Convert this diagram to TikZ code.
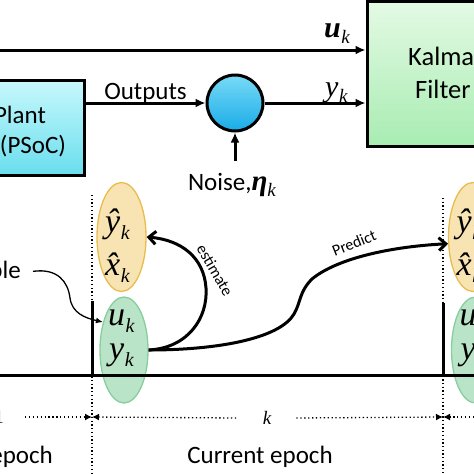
\documentclass[tikz,border=0pt]{standalone}
\usepackage{fontspec}
\setmainfont{Carlito}
\newfontfamily\mfont{Liberation Serif}
\usetikzlibrary{shapes.geometric,arrows.meta}
\definecolor{plantTop}{RGB}{200,248,252}
\definecolor{plantBot}{RGB}{105,222,238}
\definecolor{kfTop}{RGB}{228,250,228}
\definecolor{kfBot}{RGB}{168,236,178}
\definecolor{sumTop}{RGB}{120,218,246}
\definecolor{sumBot}{RGB}{25,172,232}
\definecolor{oFill}{RGB}{248,228,178}
\definecolor{oLine}{RGB}{234,187,78}
\definecolor{gFill}{RGB}{186,228,200}
\definecolor{gLine}{RGB}{135,206,158}
% italic variable with subscript k (ellipse size and top size)
\newcommand\vkE[1]{{\mfont\itshape\fontsize{34}{36}\selectfont #1\kern0.5pt\raisebox{-7pt}{\fontsize{20}{21}\selectfont k}}}
\newcommand\vkT[1]{{\mfont\itshape\fontsize{30}{32}\selectfont #1\kern0.5pt\raisebox{-6pt}{\mdseries\fontsize{19}{20}\selectfont k}}}
\tikzset{
  txt/.style={font=\fontsize{25}{33}\selectfont, inner sep=0pt},
  bigtxt/.style={font=\fontsize{26.5}{33}\selectfont, inner sep=0pt},
  mlbl/.style={inner sep=0pt},
  small/.style={font=\fontsize{16}{18}\selectfont, inner sep=0pt},
  heavy/.style={line width=3pt},
  solidtip/.style={-{Latex[length=10pt,width=9pt]}},
  barbtip/.style={-{Straight Barb[length=7pt,width=13pt,line width=3pt]}},
  dotv/.style={line width=1.3pt, dash pattern=on 1.3pt off 2.4pt},
  dimtip/.style={line width=1.3pt, dash pattern=on 1.3pt off 2.6pt},
  oell/.style={ellipse, draw=oLine, fill=oFill, line width=1.3pt, minimum width=49pt, minimum height=109pt, inner sep=0pt},
  gell/.style={ellipse, draw=gLine, fill=gFill, line width=1.3pt, minimum width=48pt, minimum height=106pt, inner sep=0pt},
}
\begin{document}
\begin{tikzpicture}[x=1pt,y=-1pt]
\useasboundingbox (0,0) rectangle (474,474);
\clip (0,0) rectangle (474,474);
% blocks
\node[draw, line width=3pt, top color=plantTop, bottom color=plantBot, minimum width=114pt, minimum height=95pt, inner sep=0pt] (plant) at (27,127.5) {};
\node[draw, line width=3pt, top color=kfTop, bottom color=kfBot, minimum width=160pt, minimum height=145pt, inner sep=0pt] (kf) at (447,73.5) {};
\node[circle, draw, line width=3pt, top color=sumTop, bottom color=sumBot, minimum size=56pt, inner sep=0pt] (sum) at (235,103) {};
\node[txt, anchor=base] (plantA) at (20,123) {Plant};
\node[txt, anchor=base] (plantB) at (33,153) {(PSoC)};
\node[bigtxt, anchor=base west] (kfA) at (408,65.5) {Kalman};
\node[bigtxt, anchor=base west] (kfB) at (415,98) {Filter};
\node[txt, anchor=base] (outl) at (145.5,99) {Outputs};
\node[txt, anchor=base] (noise) at (232,190) {Noise,{\mfont\bfseries\itshape\fontsize{29}{30}\selectfont η\raisebox{-6pt}{\mdseries\fontsize{19}{20}\selectfont k}}};
\node[mlbl, anchor=base west] (ulab) at (324,37) {\vkT{\bfseries u}};
\node[mlbl, anchor=base west] (ylab) at (325,96) {\vkT{y}};
% top connectors
\coordinate (uin) at (-5,50);
\coordinate (nz) at (235,161);
\draw[heavy, solidtip] (uin) -- (kf.west |- uin);
\draw[heavy, solidtip] (plant.east |- sum) -- (sum.west);
\draw[heavy, solidtip] (sum.east) -- (kf.west |- sum);
\draw[heavy, solidtip] (nz) -- (sum.south);
% ellipses
\node[oell] (oL) at (121.5,237) {};
\node[gell] (gL) at (124,350) {};
\node[oell] (oR) at (473,237) {};
\node[gell] (gR) at (475.5,350) {};
\node[mlbl, anchor=base west] (hyL) at (105,232) {\vkE{ŷ}};
\node[mlbl, anchor=base west] (hxL) at (105,275) {\vkE{\^x}};
\node[mlbl, anchor=base west] (uL) at (108,325) {\vkE{u}};
\node[mlbl, anchor=base west] (yL) at (109,359) {\vkE{y}};
\node[mlbl, anchor=base west] (hyR) at (456.5,232) {\vkE{ŷ}};
\node[mlbl, anchor=base west] (hxR) at (456.5,275) {\vkE{\^x}};
\node[mlbl, anchor=base west] (uR) at (459.5,325) {\vkE{u}};
\node[mlbl, anchor=base west] (yR) at (460.5,359) {\vkE{y}};
% timeline and epoch marks
\coordinate (tl0) at (-5,375);
\coordinate (tl1) at (480,375);
\draw[line width=3pt] (tl0) -- (tl1);
\coordinate (vAt) at (92,195); \coordinate (vAb) at (92,480);
\coordinate (vBt) at (443,198); \coordinate (vBb) at (443,480);
\draw[dotv] (vAt) -- (vAb);
\draw[dotv] (vBt) -- (vBb);
\coordinate (bAt) at (92.5,301); \coordinate (bAb) at (92.5,375);
\coordinate (bBt) at (443.5,303); \coordinate (bBb) at (443.5,375);
\draw[line width=2.7pt] (bAt) -- (bAb);
\draw[line width=2.7pt] (bBt) -- (bBb);
% sample arrow
\node[txt, anchor=base east] (samp) at (21,278) {Sample};
\draw[line width=1.3pt, -{Latex[length=7pt,width=6pt]}] ([xshift=12pt]samp.east) .. controls (58,268) and (68,282) .. (70,298) .. controls (72,313) and (85,318) .. (gL.127);
% estimate / predict
\draw[heavy, barbtip] (gL.east) .. controls (188,348) and (208,318) .. (206,288) .. controls (204,258) and (182,240) .. (oL.east);
\node[small, rotate=-60] (est) at (215,270) {estimate};
\draw[heavy, barbtip] (gL.east) .. controls (220,350) and (280,338) .. (294,314) .. controls (301,302) and (299,292) .. (312,279) .. controls (335,260) and (385,247) .. (oR.195);
\node[small, rotate=22] (pred) at (354,243) {Predict};
% dimension line
\node[font=\mfont\itshape\fontsize{19}{20}\selectfont, inner sep=0pt] (klab) at (267,418) {k};
\node[font=\mfont\fontsize{19}{20}\selectfont, inner sep=0pt, anchor=base east] (kmlab) at (4,423) {\textit{k}\,−\,1};
\coordinate (dA) at (25,417);
\coordinate (dB) at (92,417);
\coordinate (dC) at (443,417);
\coordinate (dD) at (480,417);
\draw[dimtip, -{Latex[length=7pt,width=7pt]}] (dA) -- (dB);
\draw[dimtip, {Latex[length=7pt,width=7pt]}-] (dB) -- ([xshift=-25pt]klab.west);
\draw[dimtip, -{Latex[length=7pt,width=7pt]}] ([xshift=25pt]klab.east) -- (dC);
\draw[dimtip, {Latex[length=7pt,width=7pt]}-] (dC) -- (dD);
\node[txt, anchor=base] (cur) at (260,463) {Current epoch};
\node[txt, anchor=base east] (prev) at (53,463) {Previous epoch};
\end{tikzpicture}
\end{document}
